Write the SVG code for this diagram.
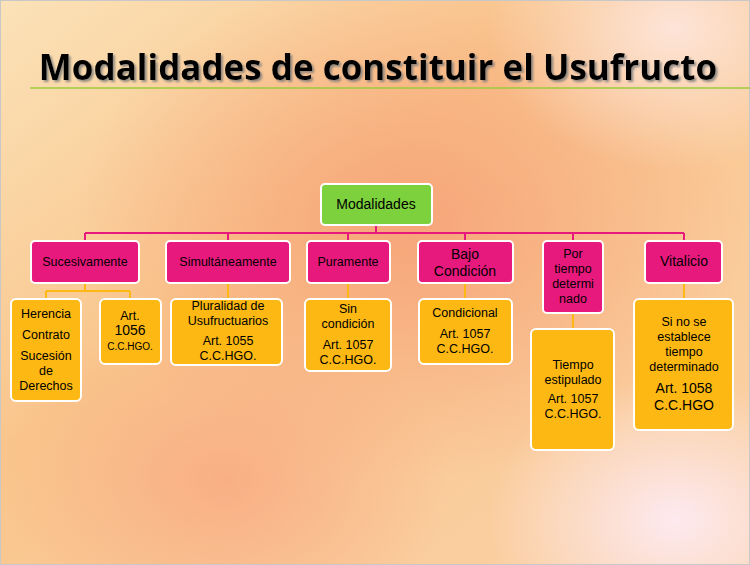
<svg xmlns="http://www.w3.org/2000/svg" width="750" height="565" viewBox="0 0 750 565">
<defs>
<linearGradient id="bg" x1="0" y1="0" x2="1" y2="1">
<stop offset="0" stop-color="#fbe2b8"/><stop offset="0.4" stop-color="#f9c58c"/><stop offset="1" stop-color="#fbd2a8"/>
</linearGradient>
<radialGradient id="b1" cx="0.55" cy="0.4" r="0.45"><stop offset="0" stop-color="#f6a177" stop-opacity="0.9"/><stop offset="1" stop-color="#f6a177" stop-opacity="0"/></radialGradient>
<radialGradient id="b2" cx="0.9" cy="0.92" r="0.25"><stop offset="0" stop-color="#fde9ef"/><stop offset="1" stop-color="#fde9ef" stop-opacity="0"/></radialGradient>
<radialGradient id="b3" cx="0.3" cy="0.85" r="0.3"><stop offset="0" stop-color="#f8a880" stop-opacity="0.8"/><stop offset="1" stop-color="#f8a880" stop-opacity="0"/></radialGradient>
<radialGradient id="b4" cx="0.9" cy="0.05" r="0.25"><stop offset="0" stop-color="#fde4d8"/><stop offset="1" stop-color="#fde4d8" stop-opacity="0"/></radialGradient>
<filter id="sh" x="-5%" y="-20%" width="110%" height="140%"><feDropShadow dx="2" dy="2" stdDeviation="1" flood-color="#777" flood-opacity="0.8"/></filter>
</defs>
<style>
.p{fill:#e8197d;stroke:#fff;stroke-width:2}
.o{fill:#fdb813;stroke:#fff;stroke-width:2}
.g{fill:#7dd13c;stroke:#fff;stroke-width:2}
text{font-family:"Liberation Sans",Arial,sans-serif;font-size:12.5px;fill:#000;text-anchor:middle}
.pk{fill:none;stroke:#e8197d;stroke-width:2}
.or{fill:none;stroke:#fdb813;stroke-width:2}
</style>
<rect width="750" height="565" fill="url(#bg)"/>
<rect width="750" height="565" fill="url(#b1)"/>
<rect width="750" height="565" fill="url(#b3)"/>
<rect width="750" height="565" fill="url(#b2)"/>
<rect width="750" height="565" fill="url(#b4)"/>
<rect x="0.5" y="0.5" width="749" height="564" fill="none" stroke="#c8c8c8"/>
<g id="title">
<text x="378" y="80" filter="url(#sh)" style="font-size:35px;font-weight:bold;fill:#000;font-family:'Open Sans','Liberation Sans',sans-serif">Modalidades de constituir el Usufructo</text>
<line x1="30" y1="88" x2="750" y2="88" stroke="#9ccb3b" stroke-width="1.5"/>
</g>
<g id="connectors">
<path class="pk" d="M376 225V233M85 233H684M85 233V241M228 233V241M348 233V241M465 233V241M573 233V241M684 233V241"/>
<path class="or" d="M85 283V291M46 291H130M46 291V299M130 291V299M228 283V299M348 283V299M465 283V299M573 313V329M684 283V299"/>
</g>
<g id="n0"><rect class="g" x="321" y="184" width="111" height="41" rx="4"/><text x="376" y="209" style="font-size:14px">Modalidades</text></g>
<g id="n1"><rect class="p" x="31" y="241" width="108" height="42" rx="4"/><text x="85" y="266">Sucesivamente</text></g>
<g id="n2"><rect class="p" x="166" y="241" width="124" height="42" rx="4"/><text x="228" y="266">Simultáneamente</text></g>
<g id="n3"><rect class="p" x="307" y="241" width="83" height="42" rx="4"/><text x="348" y="266">Puramente</text></g>
<g id="n4"><rect class="p" x="418" y="241" width="95" height="42" rx="4"/><text x="465" y="259" style="font-size:14px">Bajo</text><text x="465" y="276" style="font-size:14px">Condición</text></g>
<g id="n5"><rect class="p" x="543" y="241" width="60" height="72" rx="4"/><text x="573" y="258">Por</text><text x="573" y="273">tiempo</text><text x="573" y="288">determi</text><text x="573" y="303">nado</text></g>
<g id="n6"><rect class="p" x="645" y="241" width="77" height="42" rx="4"/><text x="684" y="266" style="font-size:14px">Vitalicio</text></g>
<g id="n7"><rect class="o" x="11" y="299" width="70" height="102" rx="5"/><text x="46" y="318">Herencia</text><text x="46" y="339">Contrato</text><text x="46" y="360">Sucesión</text><text x="46" y="375">de</text><text x="46" y="390">Derechos</text></g>
<g id="n8"><rect class="o" x="100" y="299" width="61" height="65" rx="5"/><text x="130" y="320">Art.</text><text x="130" y="335" style="font-size:14px">1056</text><text x="130" y="350" style="font-size:10px">C.C.HGO.</text></g>
<g id="n9"><rect class="o" x="171" y="299" width="111" height="66" rx="5"/><text x="228" y="310">Pluralidad de</text><text x="228" y="325">Usufructuarios</text><text x="228" y="345">Art. 1055</text><text x="228" y="360">C.C.HGO.</text></g>
<g id="n10"><rect class="o" x="305" y="299" width="86" height="72" rx="5"/><text x="348" y="313">Sin</text><text x="348" y="328">condición</text><text x="348" y="349">Art. 1057</text><text x="348" y="364">C.C.HGO.</text></g>
<g id="n11"><rect class="o" x="419" y="299" width="93" height="65" rx="5"/><text x="465" y="317">Condicional</text><text x="465" y="338">Art. 1057</text><text x="465" y="353">C.C.HGO.</text></g>
<g id="n12"><rect class="o" x="531" y="329" width="83" height="121" rx="5"/><text x="573" y="369">Tiempo</text><text x="573" y="384">estipulado</text><text x="573" y="403">Art. 1057</text><text x="573" y="418">C.C.HGO.</text></g>
<g id="n13"><rect class="o" x="634" y="299" width="99" height="131" rx="5"/><text x="684" y="326">Si no se</text><text x="684" y="341">establece</text><text x="684" y="356">tiempo</text><text x="684" y="371">determinado</text><text x="684" y="393" style="font-size:14px">Art. 1058</text><text x="684" y="410" style="font-size:14px">C.C.HGO</text></g>
</svg>
